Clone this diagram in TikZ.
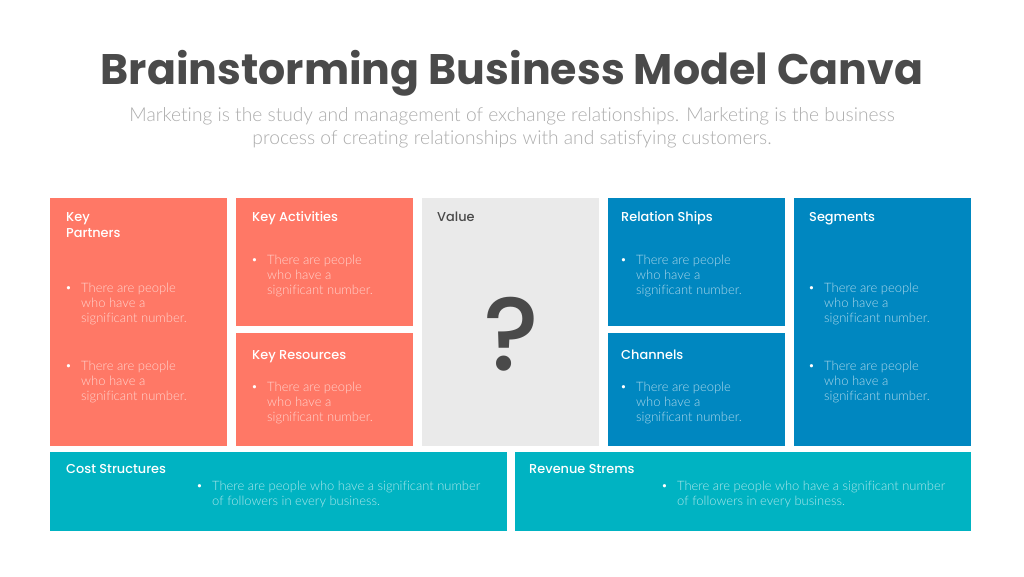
\documentclass[tikz,border=0pt]{standalone}
\usepackage{fontspec}
\setmainfont{Lato}[UprightFont=* Light, Ligatures=NoCommon]
\newfontfamily\titlefont{Poppins}[UprightFont=* Bold]
\newfontfamily\headfont{Poppins}[UprightFont=* Medium]
\usetikzlibrary{positioning}
\definecolor{coral}{HTML}{FF7866}
\definecolor{ocean}{HTML}{0087C0}
\definecolor{teal}{HTML}{00B3C2}
\definecolor{valuegray}{HTML}{EAEAEA}
\definecolor{titlegray}{HTML}{4A4A4A}
\definecolor{subgray}{HTML}{ABABAB}

\begin{document}
\begin{tikzpicture}[
  x=1pt,
  y=-1pt,
  box/.style={anchor=north west, inner sep=0pt, outer sep=0pt},
  head/.style={anchor=base west, inner sep=0pt, text=white, font=\headfont\fontsize{12.9}{15.5}\selectfont, align=left},
  body/.style={anchor=base west, inner sep=0pt, font=\fontsize{13}{15}\selectfont, align=left},
  bullet/.style={inner sep=0pt, text=white, font=\fontsize{11}{11}\selectfont},
]
  \useasboundingbox (0, 0) rectangle (1024, 576);

  % Print title and subtitle
  \node[anchor=base, inner sep=0pt, text=titlegray, font=\titlefont\fontsize{42.7}{47}\selectfont]
    (title) at (512, 84) {Brainstorming Business Model Canva};
  \node[inner sep=0pt, text=subgray, font=\fontsize{19.2}{23}\selectfont, align=center]
    (subtitle) at (512, 127.5) {Marketing is the study and management of exchange relationships. Marketing is the business\\process of creating relationships with and satisfying customers.};

  % Print boxes: name, x, y, width, height, colour
  \foreach \n/\x/\y/\w/\h/\c in {
    partners/50/198/177/248/coral, activities/236/198/177/128/coral,
    resources/236/333/177/113/coral, value/422/198/177/248/valuegray,
    relations/608/198/177/128/ocean, channels/608/333/177/113/ocean,
    segments/794/198/177/248/ocean, cost/50/452/457/79/teal,
    revenue/515/452/456/79/teal} {
    \node[box, fill=\c, minimum width=\w, minimum height=\h] (\n) at (\x, \y) {};
  }

  % Print box headings, y is the last baseline
  \foreach \n/\x/\y/\t in {
    partners/66/237/{Key\\Partners}, activities/252/221/{Key Activities},
    resources/252/359/{Key Resources}, relations/621/221/{Relation Ships},
    channels/621/359/{Channels}, segments/809/221/{Segments},
    cost/66/473/{Cost Structures}, revenue/529/473/{Revenue Strems}} {
    \node[head] (\n head) at (\x, \y) {\t};
  }
  \node[head, text=titlegray] (valuehead) at (437, 221) {Value};

  % Print the short lists
  \foreach \n/\x/\y/\c in {
    a/81/322/coral, b/81/400/coral, c/267/294/coral, d/267/421/coral,
    e/636/294/ocean, f/636/421/ocean, g/824/322/ocean, h/824/400/ocean} {
    \node[body, text=white!68!\c] (item\n) at (\x, \y) {There are people\\who have a\\significant number.};
    \node[bullet, left=9pt of item\n.north west, yshift=-7pt] (dot\n) {•};
  }

  % Print the long lists
  \foreach \n/\x in {cost/212, revenue/677} {
    \node[body, text=white!68!teal, font=\fontsize{12.95}{15.5}\selectfont] (item\n) at (\x, 505.5) {There are people who have a significant number\\of followers in every business.};
    \node[bullet, left=9pt of item\n.north west, yshift=-7pt] (dot\n) {•};
  }

  \node[inner sep=0pt, text=titlegray, font=\headfont\fontsize{104}{104}\selectfont] (mark) at (511.5, 334) {?};
\end{tikzpicture}
\end{document}
